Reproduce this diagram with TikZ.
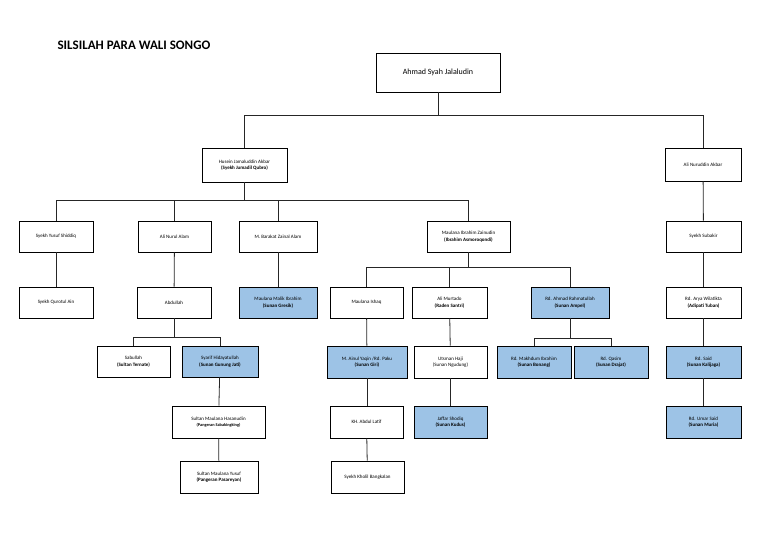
\documentclass[tikz,border=0pt]{standalone}
\usepackage{fontspec}
\setmainfont{Carlito}
\begin{document}
\begin{tikzpicture}[x=1pt,y=-1pt,
  box/.style={draw=black,line width=0.8pt,fill=white,align=center,font=\fontsize{5}{6.5}\selectfont,inner sep=1pt},
  wali/.style={box,fill=blue1},
  ln/.style={draw=black!85,line width=0.8pt}]
\definecolor{blue1}{HTML}{9DC3E6}
\useasboundingbox (0,0) rectangle (768,543);
\node[anchor=west,font=\bfseries\fontsize{13}{15}\selectfont] (title) at (54,45) {SILSILAH PARA WALI SONGO};
\newcommand{\bx}[7]{\node[#1,minimum width=#4-#3,minimum height=#6-#5] (#2) at ({(#3+#4)/2},{(#5+#6)/2}) {#7};}
\bx{box}{root}{376}{500}{53}{92}{\fontsize{8}{10}\selectfont Ahmad Syah Jalaludin}
\bx{box}{husein}{202}{287}{148}{182}{Husein Jamaluddin Akbar\\\textbf{(Syekh Jumadil Qubro)}}
\bx{box}{alinur}{665}{741}{148}{181}{Ali Nuruddin Akbar}
\bx{box}{yusuf}{19}{93}{221}{252}{Syekh Yusuf Shiddiq}
\bx{box}{alinurul}{138}{211}{221}{252}{Ali Nurul Alam}
\bx{box}{barakat}{239}{317}{221}{252}{M. Barakat Zainal Alam}
\bx{box}{ibrahim}{427}{510}{221}{252}{Maulana Ibrahim Zainudin\\\textbf{(Ibrahim Asmoroqondi)}}
\bx{box}{subakir}{666}{741}{221}{252}{Syekh Subakir}
\bx{box}{qurotul}{19}{93}{287}{318}{Syekh Qurotul Ain}
\bx{box}{abdullah}{137}{211}{287}{318}{Abdullah}
\bx{wali}{malik}{239}{317}{287}{318}{Maulana Malik Ibrahim\\\textbf{(Sunan Gresik)}}
\bx{box}{ishaq}{330}{403}{287}{318}{Maulana Ishaq}
\bx{box}{murtado}{412}{487}{287}{318}{Ali Murtado\\\textbf{(Raden Santri)}}
\bx{wali}{ampel}{531}{609}{287}{318}{Rd. Ahmad Rahmatullah\\\textbf{(Sunan Ampel)}}
\bx{box}{arya}{666}{741}{287}{318}{Rd. Arya Wilatikta\\\textbf{(Adipati Tuban)}}
\bx{box}{sabullah}{97}{170}{346}{377}{Sabullah\\\textbf{(Sultan Ternate)}}
\bx{wali}{syarif}{182}{258}{346}{377}{Syarif Hidayatullah\\\textbf{(Sunan Gunung Jati)}}
\bx{wali}{giri}{327}{407}{346}{378}{M. Ainul Yaqin /Rd. Paku\\\textbf{(Sunan Giri)}}
\bx{box}{utsman}{414}{487}{346}{378}{Utsman Haji\\(Sunan Ngudung)}
\bx{wali}{bonang}{497}{571}{346}{378}{Rd. Makhdum Ibrahim\\\textbf{(Sunan Bonang)}}
\bx{wali}{drajat}{574}{648}{346}{378}{Rd. Qasim\\\textbf{(Sunan Drajat)}}
\bx{wali}{said}{666}{741}{346}{378}{Rd. Said\\\textbf{(Sunan Kalijaga)}}
\bx{box}{hasanudin}{172}{265}{406}{438}{Sultan Maulana Hasanudin\\\textbf{\fontsize{4.3}{6}\selectfont(Pangeran Sabakingking)}}
\bx{box}{latif}{330}{403}{406}{438}{KH. Abdul Latif}
\bx{wali}{jaffar}{414}{487}{406}{438}{Jaffar Shodiq\\\textbf{(Sunan Kudus)}}
\bx{wali}{umar}{666}{741}{406}{438}{Rd. Umar Said\\\textbf{(Sunan Muria)}}
\bx{box}{myusuf}{180}{258}{461}{493}{Sultan Maulana Yusuf\\\textbf{(Pangeran Pasareyan)}}
\bx{box}{kholil}{331}{404}{461}{493}{Syekh Kholil Bangkalan}
\coordinate (b0) at (0,115);
\coordinate (b1) at (0,200);
\coordinate (b2) at (0,267);
\coordinate (b3) at (0,337);
\coordinate (b4) at (0,338);
\foreach \c in {husein,alinur} \draw[ln] (root.south) -- (root.south |- b0) -| (\c.north);
\foreach \c in {yusuf,alinurul,barakat,ibrahim} \draw[ln] (husein.south) -- (husein.south |- b1) -| (\c.north);
\foreach \c in {ishaq,murtado,ampel} \draw[ln] (ibrahim.south) -- (ibrahim.south |- b2) -| (\c.north);
\foreach \c in {sabullah,syarif} \draw[ln] (abdullah.south) -- (abdullah.south |- b3) -| (\c.north);
\foreach \c in {bonang,drajat} \draw[ln] (ampel.south) -- (ampel.south |- b4) -| (\c.north);
\draw[ln] (alinur) -- (subakir);
\draw[ln] (subakir) -- (arya);
\draw[ln] (arya) -- (said);
\draw[ln] (said) -- (umar);
\draw[ln] (yusuf) -- (qurotul);
\draw[ln] (alinurul) -- (abdullah);
\draw[ln] (barakat) -- (malik);
\draw[ln] (ishaq) -- (giri);
\draw[ln] (murtado) -- (utsman);
\draw[ln] (utsman) -- (jaffar);
\draw[ln] (giri.south) -- (giri.south |- latif.north);
\draw[ln] (latif) -- (kholil);
\draw[ln] (syarif) -- (hasanudin);
\draw[ln] (hasanudin) -- (myusuf);
\end{tikzpicture}
\end{document}
